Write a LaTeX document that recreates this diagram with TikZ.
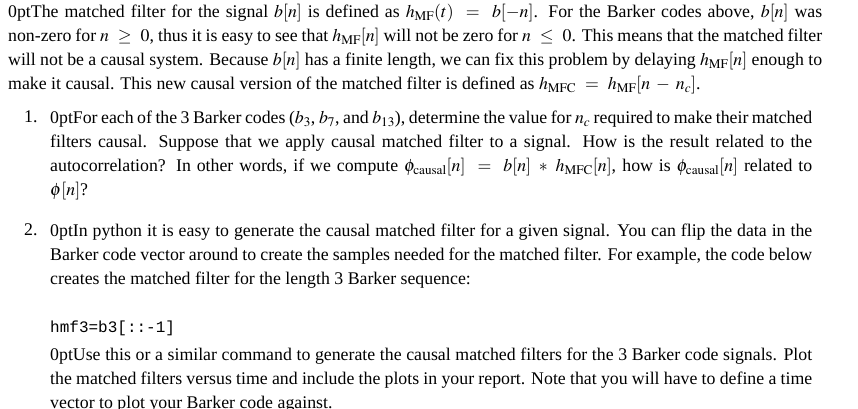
\documentclass[tikz,border=0pt]{standalone}
\usepackage{mathptmx}
\usepackage{fontspec}
\setmainfont{Liberation Serif}
\setmonofont{Liberation Mono}
\thickmuskip=9mu plus 5mu
\medmuskip=6mu plus 3mu
\begin{document}
\begin{tikzpicture}[x=1pt,y=-1pt,
 para/.style={anchor=north west,inner sep=0pt,align=justify,font=\fontsize{17.8}{24}\selectfont\lineskiplimit=-6pt},
 num/.style={anchor=north west,inner sep=0pt,font=\fontsize{17.8}{24}\selectfont}]
\useasboundingbox (0,0) rectangle (858,408);
\node[para,text width=814pt] (p0) at (8,4) {The matched filter for the signal $b[n]$ is defined as $h_{\mathrm{MF}}(t)=b[-n]$. For the Barker codes above, $b[n]$ was non-zero for $n\geq 0$, thus it is easy to see that $h_{\mathrm{MF}}[n]$ will not be zero for $n\leq 0$. This means that the matched filter will not be a causal system. Because $b[n]$ has a finite length, we can fix this problem by delaying $h_{\mathrm{MF}}[n]$ enough to make it causal. This new causal version of the matched filter is defined as $h_{\mathrm{MFC}}=h_{\mathrm{MF}}[n-n_c]$.\par};
\node[num] (n1) at (24,111) {1.};
\node[para,text width=762pt] (p1) at (50,111) {For each of the 3 Barker codes ($b_3$, $b_7$, and $b_{13}$), determine the value for $n_c$ required to make their matched filters causal. Suppose that we apply causal matched filter to a signal. How is the result related to the autocorrelation? In other words, if we compute $\phi_{\mathrm{causal}}[n]=b[n]*h_{\mathrm{MFC}}[n]$, how is $\phi_{\mathrm{causal}}[n]$ related to $\phi[n]$?\par};
\node[num] (n2) at (24,224) {2.};
\node[para,text width=762pt] (p2) at (50,224) {In python it is easy to generate the causal matched filter for a given signal. You can flip the data in the Barker code vector around to create the samples needed for the matched filter. For example, the code below creates the matched filter for the length 3 Barker sequence:\par};
\node[num,font=\fontsize{16}{24}\ttfamily] (c) at (50,321) {hmf3=b3[::-1]};
\node[para,text width=762pt] (p3) at (50,348) {Use this or a similar command to generate the causal matched filters for the 3 Barker code signals. Plot the matched filters versus time and include the plots in your report. Note that you will have to define a time vector to plot your Barker code against.\par};
\end{tikzpicture}
\end{document}
